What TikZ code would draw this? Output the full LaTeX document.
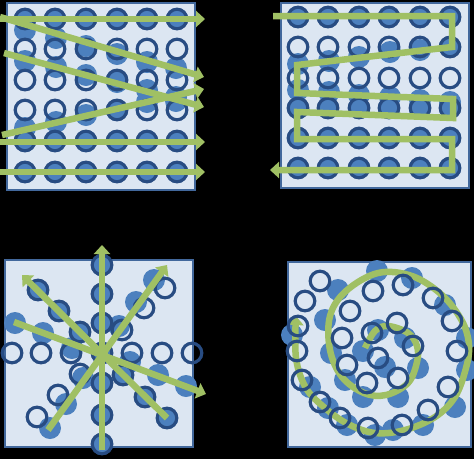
\documentclass[tikz,border=0pt]{standalone}
\usetikzlibrary{arrows.meta}
\definecolor{panelbg}{RGB}{220,230,242}
\definecolor{framec}{RGB}{66,104,156}
\definecolor{ringc}{RGB}{40,76,130}
\definecolor{blobc}{RGB}{76,128,190}
\definecolor{pathc}{RGB}{160,192,100}
\newcommand{\fullring}[1]{\fill[blobc] (#1) circle (11pt);
					\draw[ringc, line width=3.2pt] (#1) circle (9.8pt);}
\newcommand{\openring}[1]{\draw[ringc, line width=3.2pt] (#1) circle (9.8pt);}
\newcommand{\blob}[1]{\fill[blobc] (#1) circle (11pt);}
\newcommand{\panel}[4]{\draw[framec, fill=panelbg, line width=2.5pt] (#1,#2) rectangle (#3,#4);}
\tikzset{move/.style={pathc, line width=6.5pt},
	movearr/.style={move, -{Triangle[length=9pt,width=16pt]}}}

\begin{document}
\begin{tikzpicture}[x=1pt, y=-1pt]

					\fill[black] (0,0) rectangle (474,459);
					\useasboundingbox (0,0) rectangle (474,459);

					% top left
					\panel{7}{3}{195}{190}
					\foreach \x/\y in {25/30,56/38,86/46,117/54,147/62,176/68,
						25/61,56/67,86/75,117/82,147/90,176/97,
						25/128,56/122,86/115,147/102,176/101}
						{\blob{\x,\y}}
					\foreach \x in {25,55,86,117,147,177}{
						\fullring{\x,19}
						\fullring{\x,141}
						\fullring{\x,172}
						\openring{\x,49}
						\openring{\x,80}
					}
					\foreach \x in {25,55,86,147,177}
						{\openring{\x,110}}
					\fullring{117,110}
					\draw[movearr] (0,19) -- (205,19);
					\draw[movearr] (0,17) -- (204,77);
					\draw[movearr] (4,53) -- (204,107);
					\draw[movearr] (2,135) -- (204,89);
					\draw[movearr] (0,142) -- (205,142);
					\draw[movearr] (0,172) -- (205,172);

					% top right
					\panel{281}{3}{469}{188}
					\foreach \x/\y in {298/64,329/61,359/57,390/52,420/50,
						298/90,329/92,359/95,390/97,420/100,450/102}
						{\blob{\x,\y}}
					\foreach \x in {298,328,359,389,420,450}{
						\fullring{\x,17}
						\openring{\x,78}
						\fullring{\x,108}
						\fullring{\x,138}
						\fullring{\x,168}
					}
					\foreach \x in {298,328,359,389,420}
						{\openring{\x,47}}
					\fullring{450,47}
					\draw[movearr, line join=miter] (273,16) -- (452,16) -- (452,47) -- (297,65)
						-- (297,93) -- (453,99) -- (453,118) -- (297,112) -- (297,139)
						-- (452,139) -- (452,170) -- (270,170);

					% bottom left
					\panel{5}{260}{193}{447}
					\foreach \x/\y in {15/323,43/333,72/348,130/362,158/375,186/386,
						154/280,136/302,119/326,83/378,66/404,50/428}
						{\blob{\x,\y}}
					\foreach \y in {265,294,323,353,383,415,444}
						{\fullring{102,\y}}
					\foreach \x/\y in {38/290,59/311,80/332,123/375,145/397,167/418}
						{\fullring{\x,\y}}
					\foreach \x/\y in {165/288,144/308,122/330,80/374,58/395,37/417}
						{\openring{\x,\y}}
					\foreach \x in {12,41,71,132,162,192}
						{\openring{\x,353}}
					\draw[movearr] (102,450) -- (102,245);
					\draw[movearr] (167,418) -- (22,275);
					\draw[movearr] (48,430) -- (167,265);
					\draw[movearr] (14,322) -- (206,394);
					\fill[pathc] (102,353) circle (6pt);

					% bottom right
					\panel{288}{262}{471}{447}
					\foreach \x/\y in {377/271,412/278,338/290,445/305,325/320,467/338,
						378/330,405/338,292/335,331/353,363/351,385/367,345/380,
						310/387,363/397,398/397,418/368,467/370,455/407,328/408,
						347/425,393/430,423/425,375/435}
						{\blob{\x,\y}}
					\draw[movearr] plot[smooth, tension=0.6] coordinates {(365,348) (375,331)
						(388,326) (408,333) (417,346) (417,362) (408,383) (386,395)
						(364,393) (342,377) (330,350) (330,316) (346,291) (378,273)
						(412,276) (442,295) (462,321) (469,345) (466,368) (455,397)
						(435,417) (405,430) (375,433) (348,424) (325,408) (306,388)
						(296,358) (296,316)};
					\foreach \x/\y in {320/281,305/301,350/311,373/291,403/285,433/298,
						452/321,298/326,342/338,372/333,397/323,413/346,457/351,
						297/351,347/365,378/358,398/378,367/383,448/387,302/380,
						320/402,340/418,368/428,402/425,428/410}
						{\openring{\x,\y}}

\end{tikzpicture}
\end{document}
